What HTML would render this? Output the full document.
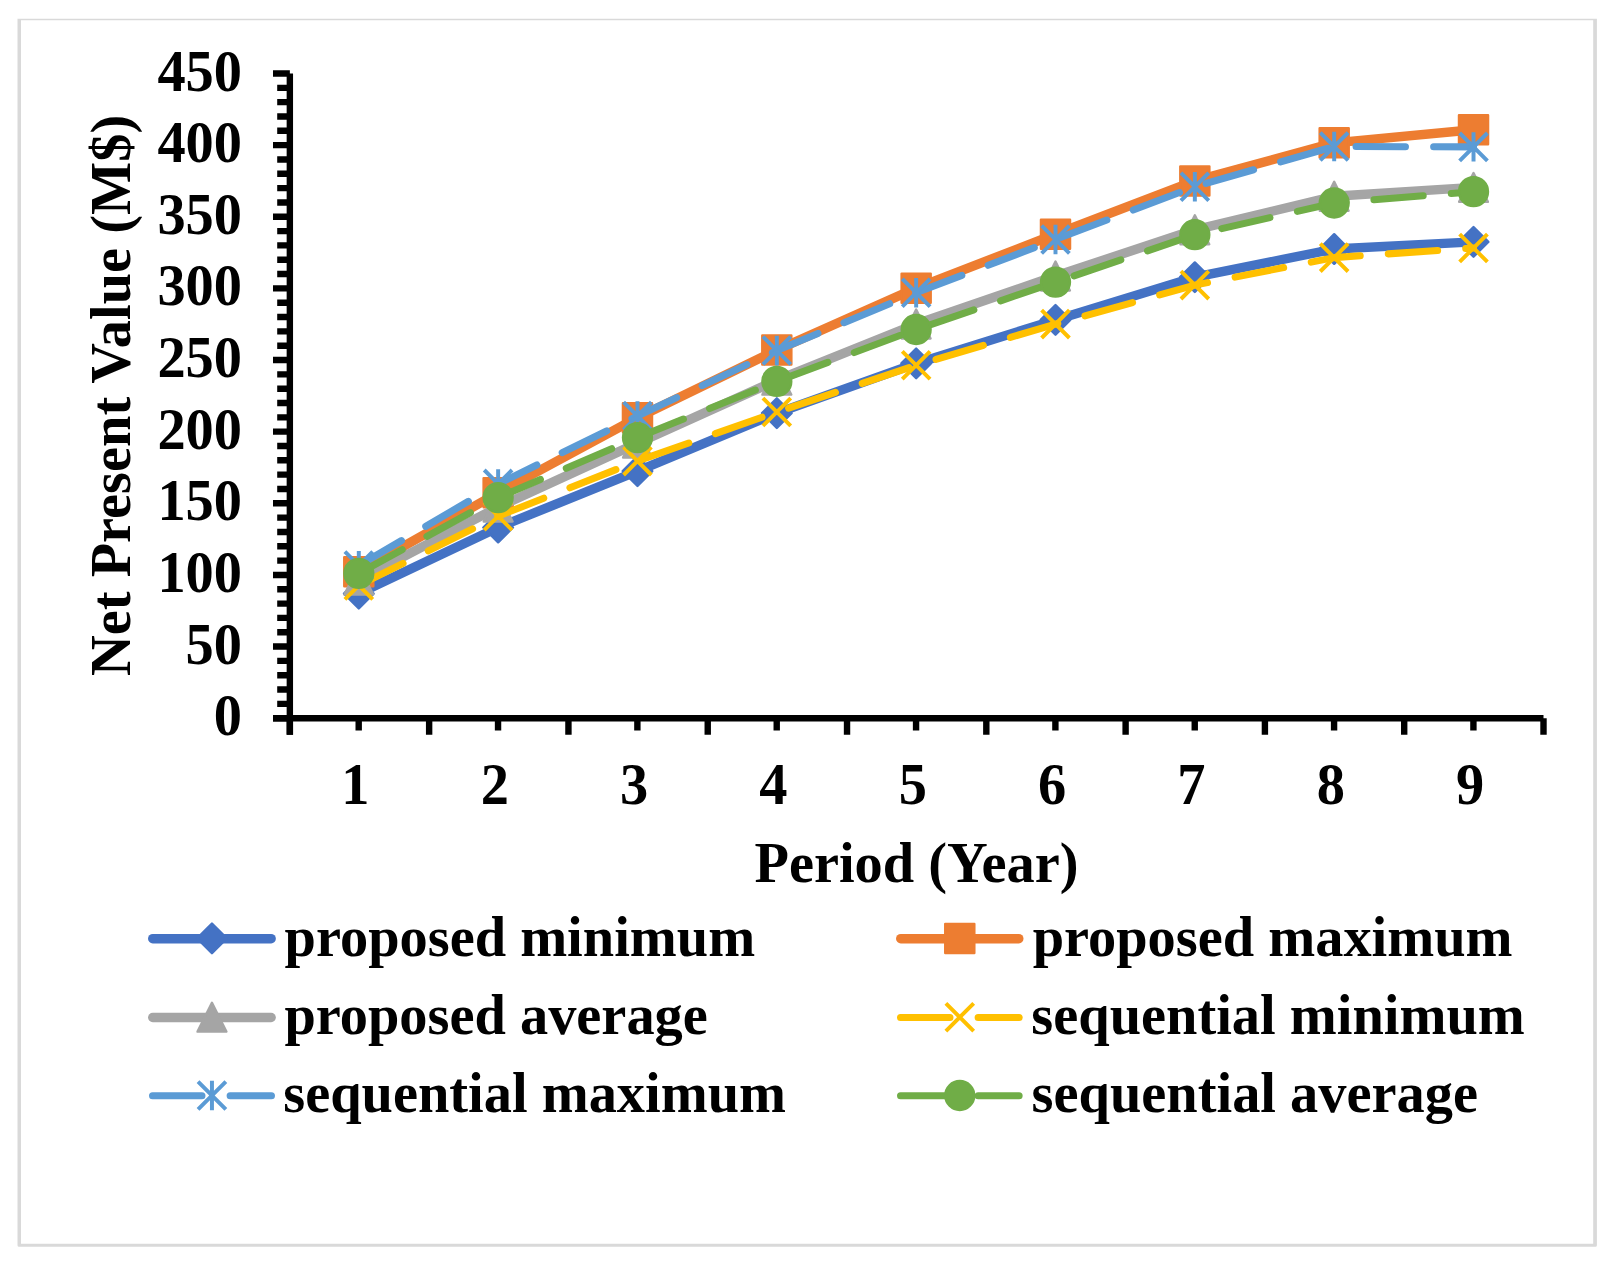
<!DOCTYPE html>
<html lang="en"><head><meta charset="utf-8"><title>Net Present Value chart</title>
<style>html,body{margin:0;padding:0;background:#fff;overflow:hidden}svg{display:block}text{font-family:"Liberation Serif","Times New Roman",Times,serif;font-weight:bold;font-size:56.4px;fill:#000}</style></head>
<body><svg width="1613" height="1267" viewBox="0 0 1613 1267">
<rect width="1613" height="1267" fill="#fff"/>
<path fill="#D9D9D9" fill-rule="evenodd" d="M17.5 18.7H1596.9V1245.3Q1596.9 1246.8 1595.4 1246.8H19Q17.5 1246.8 17.5 1245.3ZM21 20.2V1243.8H1593.2V20.2Z"/>
<g stroke="#000" stroke-width="6.4" fill="none">
<path d="M289.85 73.5V734.8M273 718.2H1543.5"/>
<path d="M273 718.2H289.85M277.2 703.87H289.85M277.2 689.55H289.85M277.2 675.22H289.85M277.2 660.89H289.85M273 646.57H289.85M277.2 632.24H289.85M277.2 617.91H289.85M277.2 603.59H289.85M277.2 589.26H289.85M273 574.93H289.85M277.2 560.61H289.85M277.2 546.28H289.85M277.2 531.95H289.85M277.2 517.63H289.85M273 503.3H289.85M277.2 488.97H289.85M277.2 474.65H289.85M277.2 460.32H289.85M277.2 445.99H289.85M273 431.67H289.85M277.2 417.34H289.85M277.2 403.01H289.85M277.2 388.69H289.85M277.2 374.36H289.85M273 360.03H289.85M277.2 345.71H289.85M277.2 331.38H289.85M277.2 317.05H289.85M277.2 302.73H289.85M273 288.4H289.85M277.2 274.07H289.85M277.2 259.75H289.85M277.2 245.42H289.85M277.2 231.09H289.85M273 216.77H289.85M277.2 202.44H289.85M277.2 188.11H289.85M277.2 173.79H289.85M277.2 159.46H289.85M273 145.13H289.85M277.2 130.81H289.85M277.2 116.48H289.85M277.2 102.15H289.85M277.2 87.83H289.85M273 73.5H289.85"/>
<path d="M289.85 718.2V734.8M429.14 718.2V734.8M568.44 718.2V734.8M707.73 718.2V734.8M847.03 718.2V734.8M986.32 718.2V734.8M1125.62 718.2V734.8M1264.91 718.2V734.8M1404.21 718.2V734.8M1543.5 718.2V734.8M358.7 718.2V730.5M498.04 718.2V730.5M637.38 718.2V730.5M776.72 718.2V730.5M916.06 718.2V730.5M1055.4 718.2V730.5M1194.74 718.2V730.5M1334.08 718.2V730.5M1473.42 718.2V730.5"/>
</g>
<g text-anchor="end">
<text transform="translate(242 735.2) scale(1 1.05)">0</text>
<text transform="translate(242 663.57) scale(1 1.05)">50</text>
<text transform="translate(242 591.93) scale(1 1.05)">100</text>
<text transform="translate(242 520.3) scale(1 1.05)">150</text>
<text transform="translate(242 448.67) scale(1 1.05)">200</text>
<text transform="translate(242 377.03) scale(1 1.05)">250</text>
<text transform="translate(242 305.4) scale(1 1.05)">300</text>
<text transform="translate(242 233.77) scale(1 1.05)">350</text>
<text transform="translate(242 162.13) scale(1 1.05)">400</text>
<text transform="translate(242 90.5) scale(1 1.05)">450</text>
</g>
<g text-anchor="middle">
<text transform="translate(355.4 804) scale(1 1.05)">1</text>
<text transform="translate(494.74 804) scale(1 1.05)">2</text>
<text transform="translate(634.08 804) scale(1 1.05)">3</text>
<text transform="translate(773.42 804) scale(1 1.05)">4</text>
<text transform="translate(912.76 804) scale(1 1.05)">5</text>
<text transform="translate(1052.1 804) scale(1 1.05)">6</text>
<text transform="translate(1191.44 804) scale(1 1.05)">7</text>
<text transform="translate(1330.78 804) scale(1 1.05)">8</text>
<text transform="translate(1470.12 804) scale(1 1.05)">9</text>
<text x="916.5" y="881.9">Period (Year)</text>
</g>
<text transform="translate(130 676) rotate(-90)">Net Present Value (M$)</text>
<polyline points="358.8,593.6 498.14,527.5 637.48,471.2 776.82,413.1 916.16,363.4 1055.5,319.9 1194.84,277.2 1334.18,249 1473.52,241.9" fill="none" stroke="#4472C4" stroke-width="9.43" stroke-linejoin="round" stroke-linecap="round"/>
<polygon points="358.8,578.8 373.6,593.6 358.8,608.4 344,593.6" fill="#4472C4" stroke="#4472C4" stroke-width="2.4" stroke-linejoin="round"/>
<polygon points="498.14,512.7 512.94,527.5 498.14,542.3 483.34,527.5" fill="#4472C4" stroke="#4472C4" stroke-width="2.4" stroke-linejoin="round"/>
<polygon points="637.48,456.4 652.28,471.2 637.48,486 622.68,471.2" fill="#4472C4" stroke="#4472C4" stroke-width="2.4" stroke-linejoin="round"/>
<polygon points="776.82,398.3 791.62,413.1 776.82,427.9 762.02,413.1" fill="#4472C4" stroke="#4472C4" stroke-width="2.4" stroke-linejoin="round"/>
<polygon points="916.16,348.6 930.96,363.4 916.16,378.2 901.36,363.4" fill="#4472C4" stroke="#4472C4" stroke-width="2.4" stroke-linejoin="round"/>
<polygon points="1055.5,305.1 1070.3,319.9 1055.5,334.7 1040.7,319.9" fill="#4472C4" stroke="#4472C4" stroke-width="2.4" stroke-linejoin="round"/>
<polygon points="1194.84,262.4 1209.64,277.2 1194.84,292 1180.04,277.2" fill="#4472C4" stroke="#4472C4" stroke-width="2.4" stroke-linejoin="round"/>
<polygon points="1334.18,234.2 1348.98,249 1334.18,263.8 1319.38,249" fill="#4472C4" stroke="#4472C4" stroke-width="2.4" stroke-linejoin="round"/>
<polygon points="1473.52,227.1 1488.32,241.9 1473.52,256.7 1458.72,241.9" fill="#4472C4" stroke="#4472C4" stroke-width="2.4" stroke-linejoin="round"/>
<polyline points="358.8,571.65 498.14,492.8 637.48,417.7 776.82,350 916.16,288.15 1055.5,234.2 1194.84,180.9 1334.18,142.85 1473.52,129.8" fill="none" stroke="#ED7D31" stroke-width="9.43" stroke-linejoin="round" stroke-linecap="round"/>
<rect x="344.25" y="557.1" width="29.1" height="29.1" fill="#ED7D31" stroke="#ED7D31" stroke-width="2.4" stroke-linejoin="round"/>
<rect x="483.59" y="478.25" width="29.1" height="29.1" fill="#ED7D31" stroke="#ED7D31" stroke-width="2.4" stroke-linejoin="round"/>
<rect x="622.93" y="403.15" width="29.1" height="29.1" fill="#ED7D31" stroke="#ED7D31" stroke-width="2.4" stroke-linejoin="round"/>
<rect x="762.27" y="335.45" width="29.1" height="29.1" fill="#ED7D31" stroke="#ED7D31" stroke-width="2.4" stroke-linejoin="round"/>
<rect x="901.61" y="273.6" width="29.1" height="29.1" fill="#ED7D31" stroke="#ED7D31" stroke-width="2.4" stroke-linejoin="round"/>
<rect x="1040.95" y="219.65" width="29.1" height="29.1" fill="#ED7D31" stroke="#ED7D31" stroke-width="2.4" stroke-linejoin="round"/>
<rect x="1180.29" y="166.35" width="29.1" height="29.1" fill="#ED7D31" stroke="#ED7D31" stroke-width="2.4" stroke-linejoin="round"/>
<rect x="1319.63" y="128.3" width="29.1" height="29.1" fill="#ED7D31" stroke="#ED7D31" stroke-width="2.4" stroke-linejoin="round"/>
<rect x="1458.97" y="115.25" width="29.1" height="29.1" fill="#ED7D31" stroke="#ED7D31" stroke-width="2.4" stroke-linejoin="round"/>
<polyline points="358.8,580.1 498.14,507.1 637.48,443.1 776.82,380.2 916.16,324.05 1055.5,276 1194.84,229.8 1334.18,196.3 1473.52,187.4" fill="none" stroke="#A5A5A5" stroke-width="9.43" stroke-linejoin="round" stroke-linecap="round"/>
<polygon points="358.8,565.65 373.2,594.55 344.4,594.55" fill="#A5A5A5" stroke="#A5A5A5" stroke-width="2.4" stroke-linejoin="round"/>
<polygon points="498.14,492.65 512.54,521.55 483.74,521.55" fill="#A5A5A5" stroke="#A5A5A5" stroke-width="2.4" stroke-linejoin="round"/>
<polygon points="637.48,428.65 651.88,457.55 623.08,457.55" fill="#A5A5A5" stroke="#A5A5A5" stroke-width="2.4" stroke-linejoin="round"/>
<polygon points="776.82,365.75 791.22,394.65 762.42,394.65" fill="#A5A5A5" stroke="#A5A5A5" stroke-width="2.4" stroke-linejoin="round"/>
<polygon points="916.16,309.6 930.56,338.5 901.76,338.5" fill="#A5A5A5" stroke="#A5A5A5" stroke-width="2.4" stroke-linejoin="round"/>
<polygon points="1055.5,261.55 1069.9,290.45 1041.1,290.45" fill="#A5A5A5" stroke="#A5A5A5" stroke-width="2.4" stroke-linejoin="round"/>
<polygon points="1194.84,215.35 1209.24,244.25 1180.44,244.25" fill="#A5A5A5" stroke="#A5A5A5" stroke-width="2.4" stroke-linejoin="round"/>
<polygon points="1334.18,181.85 1348.58,210.75 1319.78,210.75" fill="#A5A5A5" stroke="#A5A5A5" stroke-width="2.4" stroke-linejoin="round"/>
<polygon points="1473.52,172.95 1487.92,201.85 1459.12,201.85" fill="#A5A5A5" stroke="#A5A5A5" stroke-width="2.4" stroke-linejoin="round"/>
<polyline points="358.8,585.4 498.14,516.2 637.48,461.1 776.82,412 916.16,365.3 1055.5,324.1 1194.84,285.1 1334.18,257.6 1473.52,248" fill="none" stroke="#FFC000" stroke-width="7.07" stroke-linejoin="round" stroke-dasharray="49.4 28.2" stroke-linecap="round"/>
<path d="M344.9 571.5L372.7 599.3M344.9 599.3L372.7 571.5" fill="none" stroke="#FFC000" stroke-width="3.96"/>
<path d="M484.24 502.3L512.04 530.1M484.24 530.1L512.04 502.3" fill="none" stroke="#FFC000" stroke-width="3.96"/>
<path d="M623.58 447.2L651.38 475M623.58 475L651.38 447.2" fill="none" stroke="#FFC000" stroke-width="3.96"/>
<path d="M762.92 398.1L790.72 425.9M762.92 425.9L790.72 398.1" fill="none" stroke="#FFC000" stroke-width="3.96"/>
<path d="M902.26 351.4L930.06 379.2M902.26 379.2L930.06 351.4" fill="none" stroke="#FFC000" stroke-width="3.96"/>
<path d="M1041.6 310.2L1069.4 338M1041.6 338L1069.4 310.2" fill="none" stroke="#FFC000" stroke-width="3.96"/>
<path d="M1180.94 271.2L1208.74 299M1180.94 299L1208.74 271.2" fill="none" stroke="#FFC000" stroke-width="3.96"/>
<path d="M1320.28 243.7L1348.08 271.5M1320.28 271.5L1348.08 243.7" fill="none" stroke="#FFC000" stroke-width="3.96"/>
<path d="M1459.62 234.1L1487.42 261.9M1459.62 261.9L1487.42 234.1" fill="none" stroke="#FFC000" stroke-width="3.96"/>
<polyline points="358.8,565.6 498.14,483.9 637.48,416 776.82,350.5 916.16,292.8 1055.5,239.5 1194.84,186.7 1334.18,146.5 1473.52,146.9" fill="none" stroke="#5B9BD5" stroke-width="7.07" stroke-linejoin="round" stroke-dasharray="49.4 28.2" stroke-linecap="round"/>
<path d="M344.9 551.7L372.7 579.5M344.9 579.5L372.7 551.7M358.8 550.9L358.8 580.3" fill="none" stroke="#5B9BD5" stroke-width="3.96"/>
<path d="M484.24 470L512.04 497.8M484.24 497.8L512.04 470M498.14 469.2L498.14 498.6" fill="none" stroke="#5B9BD5" stroke-width="3.96"/>
<path d="M623.58 402.1L651.38 429.9M623.58 429.9L651.38 402.1M637.48 401.3L637.48 430.7" fill="none" stroke="#5B9BD5" stroke-width="3.96"/>
<path d="M762.92 336.6L790.72 364.4M762.92 364.4L790.72 336.6M776.82 335.8L776.82 365.2" fill="none" stroke="#5B9BD5" stroke-width="3.96"/>
<path d="M902.26 278.9L930.06 306.7M902.26 306.7L930.06 278.9M916.16 278.1L916.16 307.5" fill="none" stroke="#5B9BD5" stroke-width="3.96"/>
<path d="M1041.6 225.6L1069.4 253.4M1041.6 253.4L1069.4 225.6M1055.5 224.8L1055.5 254.2" fill="none" stroke="#5B9BD5" stroke-width="3.96"/>
<path d="M1180.94 172.8L1208.74 200.6M1180.94 200.6L1208.74 172.8M1194.84 172L1194.84 201.4" fill="none" stroke="#5B9BD5" stroke-width="3.96"/>
<path d="M1320.28 132.6L1348.08 160.4M1320.28 160.4L1348.08 132.6M1334.18 131.8L1334.18 161.2" fill="none" stroke="#5B9BD5" stroke-width="3.96"/>
<path d="M1459.62 133L1487.42 160.8M1459.62 160.8L1487.42 133M1473.52 132.2L1473.52 161.6" fill="none" stroke="#5B9BD5" stroke-width="3.96"/>
<polyline points="358.8,573.35 498.14,497.6 637.48,437.6 776.82,381.4 916.16,329.5 1055.5,282.1 1194.84,234.7 1334.18,203 1473.52,191.65" fill="none" stroke="#70AD47" stroke-width="7.07" stroke-linejoin="round" stroke-dasharray="49.4 28.2" stroke-linecap="round"/>
<circle cx="358.8" cy="573.35" r="14.45" fill="#70AD47" stroke="#70AD47" stroke-width="2.4"/>
<circle cx="498.14" cy="497.6" r="14.45" fill="#70AD47" stroke="#70AD47" stroke-width="2.4"/>
<circle cx="637.48" cy="437.6" r="14.45" fill="#70AD47" stroke="#70AD47" stroke-width="2.4"/>
<circle cx="776.82" cy="381.4" r="14.45" fill="#70AD47" stroke="#70AD47" stroke-width="2.4"/>
<circle cx="916.16" cy="329.5" r="14.45" fill="#70AD47" stroke="#70AD47" stroke-width="2.4"/>
<circle cx="1055.5" cy="282.1" r="14.45" fill="#70AD47" stroke="#70AD47" stroke-width="2.4"/>
<circle cx="1194.84" cy="234.7" r="14.45" fill="#70AD47" stroke="#70AD47" stroke-width="2.4"/>
<circle cx="1334.18" cy="203" r="14.45" fill="#70AD47" stroke="#70AD47" stroke-width="2.4"/>
<circle cx="1473.52" cy="191.65" r="14.45" fill="#70AD47" stroke="#70AD47" stroke-width="2.4"/>
<line x1="152.75" y1="938.7" x2="271.15" y2="938.7" stroke="#4472C4" stroke-width="9.43" stroke-linecap="round"/>
<polygon points="211.95,923.6 226.75,938.4 211.95,953.2 197.15,938.4" fill="#4472C4" stroke="#4472C4" stroke-width="2.4" stroke-linejoin="round"/>
<text x="284.6" y="955.8">proposed minimum</text>
<line x1="900.75" y1="938.7" x2="1018.8" y2="938.7" stroke="#ED7D31" stroke-width="9.43" stroke-linecap="round"/>
<rect x="945.23" y="923.85" width="29.1" height="29.1" fill="#ED7D31" stroke="#ED7D31" stroke-width="2.4" stroke-linejoin="round"/>
<text x="1032.7" y="955.8">proposed maximum</text>
<line x1="152.75" y1="1017.5" x2="271.15" y2="1017.5" stroke="#A5A5A5" stroke-width="9.43" stroke-linecap="round"/>
<polygon points="211.95,1002.75 226.35,1031.65 197.55,1031.65" fill="#A5A5A5" stroke="#A5A5A5" stroke-width="2.4" stroke-linejoin="round"/>
<text x="284.4" y="1034.3">proposed average</text>
<line x1="900.55" y1="1017.5" x2="1019.1" y2="1017.5" stroke="#FFC000" stroke-width="7.07" stroke-dasharray="49.4 28.2" stroke-linecap="round"/>
<path d="M945.88 1003.3L973.67 1031.1M945.88 1031.1L973.67 1003.3" fill="none" stroke="#FFC000" stroke-width="3.96"/>
<text x="1031.3" y="1034.3">sequential minimum</text>
<line x1="152.55" y1="1095.8" x2="271.45" y2="1095.8" stroke="#5B9BD5" stroke-width="7.07" stroke-dasharray="49.4 28.2" stroke-linecap="round"/>
<path d="M198.05 1081.6L225.85 1109.4M198.05 1109.4L225.85 1081.6M211.95 1080.8L211.95 1110.2" fill="none" stroke="#5B9BD5" stroke-width="3.96"/>
<text x="283.2" y="1112.4">sequential maximum</text>
<line x1="900.55" y1="1095.8" x2="1019.1" y2="1095.8" stroke="#70AD47" stroke-width="7.07" stroke-dasharray="49.4 28.2" stroke-linecap="round"/>
<circle cx="959.77" cy="1095.5" r="14.45" fill="#70AD47" stroke="#70AD47" stroke-width="2.4"/>
<text x="1031.6" y="1112.4">sequential average</text>
</svg></body></html>
